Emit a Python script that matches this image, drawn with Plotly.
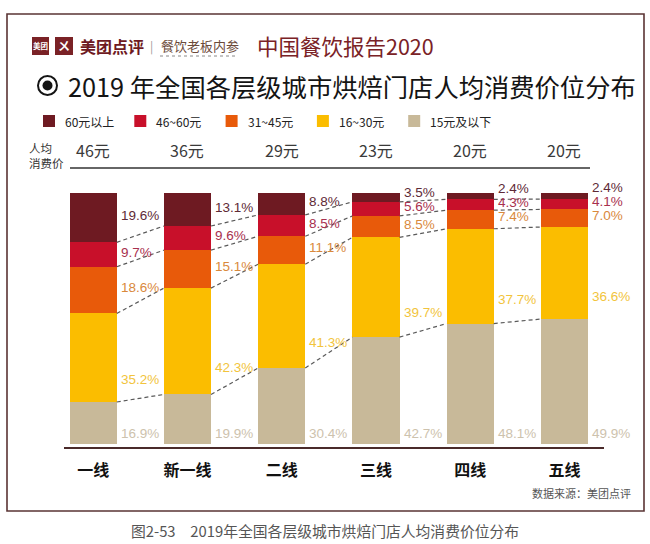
import plotly.graph_objects as go

# data
cities = ['一线', '新一线', '二线', '三线', '四线', '五线']
avg_price = ['46元', '36元', '29元', '23元', '20元', '20元']

series = ['15元及以下', '16~30元', '31~45元', '46~60元', '60元以上']  # bottom -> top
share_le15 = [16.9, 19.9, 30.4, 42.7, 48.1, 49.9]
share_16_30 = [35.2, 42.3, 41.3, 39.7, 37.7, 36.6]
share_31_45 = [18.6, 15.1, 11.1, 8.5, 7.4, 7.0]
share_46_60 = [9.7, 9.6, 8.5, 5.6, 4.3, 4.1]
share_60up = [19.6, 13.1, 8.8, 3.5, 2.4, 2.4]

bar_colors = ['#c8b999', '#fbbd00', '#e85a0a', '#c8102a', '#6e1a22']
label_colors = ['#cdc2ad', '#f2c43c', '#d9893c', '#a8304e', '#5e2a36']

shares = [share_le15, share_16_30, share_31_45, share_46_60, share_60up]

# page geometry (pixels)
W, H = 650, 544
L, R, T, B = 64, 46, 183, 97
PW, PH = W - L - R, H - T - B
YMAX = 104


def px(x):
    return (x - L) / PW


def py(y):
    return (H - B - y) / PH


FONT = 'Liberation Sans, Noto Sans CJK SC, sans-serif'
CJK = 'Noto Sans CJK SC, sans-serif'

xs = list(range(len(cities)))
BW = 0.5

fig = go.Figure()

for k in range(len(series)):
    fig.add_trace(go.Bar(
        x=xs, y=shares[k], name=series[k], width=BW,
        marker=dict(color=bar_colors[k], line=dict(width=0)),
        showlegend=False, hoverinfo='skip',
    ))

# dashed connectors between segment boundaries
cum = []
for i in xs:
    c, acc = [], 0
    for k in range(len(series)):
        acc += shares[k][i]
        c.append(acc)
    cum.append(c)

for k in range(len(series) - 1):
    lx, ly = [], []
    for i in xs[:-1]:
        lx += [i + BW / 2, i + 1 - BW / 2, None]
        ly += [cum[i][k], cum[i + 1][k], None]
    fig.add_trace(go.Scatter(x=lx, y=ly, mode='lines', showlegend=False, hoverinfo='skip',
                             line=dict(color='#5a5a5a', width=1.2, dash='4px,3px')))

# value labels right of each bar
annotations = []
for i in xs:
    ys = []
    for k in range(len(series)):
        lo = cum[i][k] - shares[k][i]
        if k == 0:
            y = 4.4
        elif k == 1:
            y = lo + 0.25 * shares[k][i]
        else:
            y = lo + shares[k][i] / 2 + 1
            if k >= 3:
                y = max(y, ys[-1] + 5.5)
        ys.append(y)
        annotations.append(dict(
            x=i + BW / 2, y=y, xref='x', yref='y', xanchor='left', yanchor='middle',
            xshift=2, text='%.1f%%' % shares[k][i], showarrow=False,
            font=dict(family=FONT, size=13.5, color=label_colors[k]),
        ))


def note(x, y, text, size, color, xanchor='center', bold=False, family=CJK):
    if bold:
        text = '<b>%s</b>' % text
    return dict(x=px(x), y=py(y), xref='paper', yref='paper', text=text, showarrow=False,
                xanchor=xanchor, yanchor='middle', align='left',
                font=dict(family=family, size=size, color=color))


# average price row
for i in xs:
    annotations.append(dict(x=i, y=py(150), xref='x', yref='paper', text=avg_price[i],
                            showarrow=False, xanchor='center', yanchor='middle',
                            font=dict(family=CJK, size=16, color='#3a3a3a')))
annotations.append(note(27, 155, '人均<br>消费价', 11.5, '#333333', xanchor='left'))

# header
annotations += [
    note(40.5, 46, '美团', 7.5, 'white', bold=True),
    note(64, 46, 'ㄨ', 12, 'white', bold=True),
    note(78, 46, '美团点评', 16, '#6e1a22', xanchor='left', bold=True),
    note(151, 46, '|', 12, '#999999'),
    note(159, 45, '餐饮老板内参', 13, '#6b4a3a', xanchor='left'),
    note(255, 46, '中国餐饮报告2020', 21.5, '#7a2226', xanchor='left'),
    note(66, 86, '2019 年全国各层级城市烘焙门店人均消费价位分布', 25.3, '#141414', xanchor='left'),
    note(633, 493, '数据来源：美团点评', 11, '#555555', xanchor='right'),
    note(325, 530, '图2-53　2019年全国各层级城市烘焙门店人均消费价位分布', 14.8, '#555555'),
]

shapes = [
    # frame
    dict(type='rect', xref='paper', yref='paper', x0=px(7), x1=px(644), y0=py(14), y1=py(511),
         line=dict(color='#5a3434', width=1.6)),
    # logo boxes
    dict(type='rect', xref='paper', yref='paper', x0=px(32), x1=px(49), y0=py(37), y1=py(55),
         line=dict(width=0), fillcolor='#7a2226'),
    dict(type='rect', xref='paper', yref='paper', x0=px(55), x1=px(73), y0=py(37), y1=py(55),
         line=dict(width=0), fillcolor='#7a2226'),
    dict(type='line', xref='paper', yref='paper', x0=px(160), x1=px(238), y0=py(56), y1=py(56),
         line=dict(color='#888888', width=1, dash='dot')),
    # title bullet
    dict(type='circle', xref='paper', yref='paper', x0=px(38), x1=px(57), y0=py(76), y1=py(95),
         line=dict(color='#141414', width=2)),
    dict(type='circle', xref='paper', yref='paper', x0=px(42.5), x1=px(52.5), y0=py(80.5), y1=py(90.5),
         line=dict(width=0), fillcolor='#141414'),
    # price row underline
    dict(type='line', xref='paper', yref='paper', x0=px(70), x1=px(590), y0=py(168), y1=py(168),
         line=dict(color='#333333', width=1.5)),
]

# legend: top series first, as in the picture
for n, k in enumerate(reversed(range(len(series)))):
    x0 = 43 + 91.3 * n
    shapes.append(dict(type='rect', xref='paper', yref='paper', x0=px(x0), x1=px(x0 + 12),
                       y0=py(115), y1=py(127), line=dict(width=0), fillcolor=bar_colors[k]))
    annotations.append(note(x0 + 20, 121.5, series[k], 12, '#222222', xanchor='left'))

fig.update_layout(
    width=W, height=H,
    margin=dict(l=L, r=R, t=T, b=B),
    paper_bgcolor='white', plot_bgcolor='white',
    barmode='stack', bargap=0,
    font=dict(family=FONT),
    showlegend=False,
    annotations=annotations,
    shapes=shapes,
)
fig.update_xaxes(range=[-0.31, 5.42], tickmode='array', tickvals=xs,
                 ticktext=['<b>%s</b>' % c for c in cities],
                 showgrid=False, zeroline=False, showline=True, linecolor='#4a2a2a', linewidth=2,
                 ticks='outside', ticklen=8, tickcolor='rgba(0,0,0,0)',
                 tickfont=dict(family=CJK, size=16, color='#111111'), fixedrange=True)
fig.update_yaxes(range=[-1, YMAX], visible=False, fixedrange=True)

fig.write_html('out.html', config={'displayModeBar': False},
               post_script="document.body.style.margin='0';")
